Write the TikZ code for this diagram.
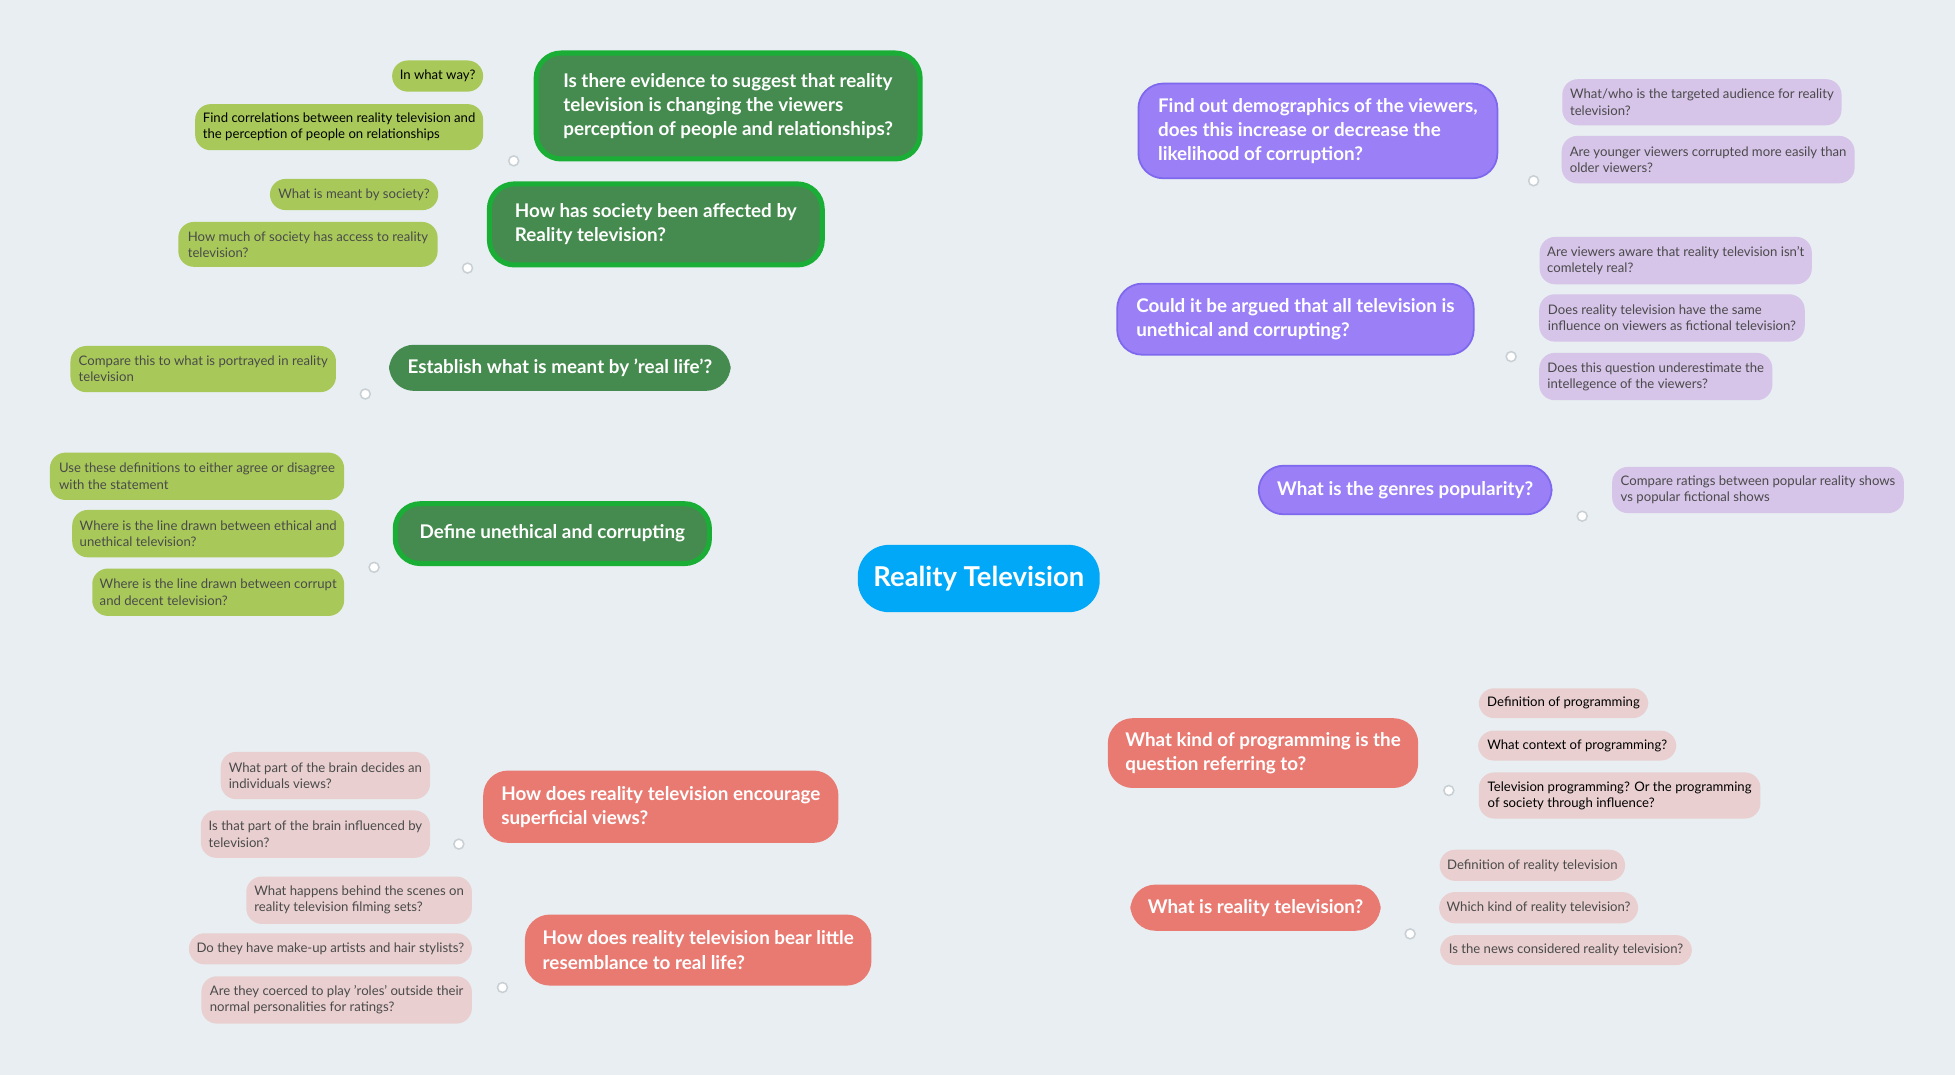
\documentclass[tikz,border=0pt]{standalone}
\usepackage{fontspec}
\setmainfont{Lato}
\usetikzlibrary{backgrounds}
\definecolor{bgcol}{HTML}{E8EEF1}
\definecolor{ctrcol}{HTML}{00A8F7}
\definecolor{gfill}{HTML}{458B4F}
\definecolor{gline}{HTML}{1AAE36}
\definecolor{gleaf}{HTML}{A8C95A}
\definecolor{pfill}{HTML}{9A7FF7}
\definecolor{pline}{HTML}{7E68EE}
\definecolor{pleaf}{HTML}{D6C4E9}
\definecolor{rfill}{HTML}{E97A72}
\definecolor{rleaf}{HTML}{E9CFCF}
\definecolor{linkcol}{HTML}{C9D0D4}
\definecolor{leaftext}{HTML}{4A4A4A}
\tikzset{
  branch/.style={rounded corners=0.4cm, align=left, text=white, inner xsep=0.28cm,
    font=\fontsize{8.6}{11}\selectfont\bfseries},
  gbranch/.style={branch, fill=gfill, draw=gline, line width=2.3pt},
  gplain/.style={branch, fill=gfill},
  pbranch/.style={branch, fill=pfill, draw=pline, line width=0.8pt},
  rbranch/.style={branch, fill=rfill},
  leaf/.style={rounded corners=0.25cm, align=left, text=leaftext, inner xsep=0.12cm,
    font=\fontsize{6}{7.4}\selectfont},
  gleafbox/.style={leaf, fill=gleaf},
  pleafbox/.style={leaf, fill=pleaf},
  rleafbox/.style={leaf, fill=rleaf},
  link/.style={draw=linkcol, line width=0.9pt},
  knot/.style={circle, draw=linkcol, fill=white, line width=0.7pt, inner sep=0pt, minimum size=0.16cm}
}
\begin{document}
\begin{tikzpicture}[x=0.02cm, y=0.02cm]
 \fill[bgcol] (0,0) rectangle (1568,-862);
 \useasboundingbox (0,0) rectangle (1568,-862);
 % centre
 \node[fill=ctrcol, text=white, rounded corners=0.5cm, minimum width=3.88cm, minimum height=1.08cm,
   font=\fontsize{12.5}{14}\selectfont\bfseries] (ctr) at (785,-464) {Reality Television};
 % green branches
 \node[gbranch, minimum width=6.16cm, minimum height=1.7cm] (g1) at (584,-85)
   {Is there evidence to suggest that reality\\television is changing the viewers\\perception of people and relationships?};
 \node[gbranch, minimum width=5.34cm, minimum height=1.3cm] (g2) at (526,-180)
   {How has society been affected by\\Reality television?};
 \node[gplain, minimum width=5.48cm, minimum height=0.74cm] (g3) at (449,-295)
   {Establish what is meant by 'real life'?};
 \node[gbranch, minimum width=5.04cm, minimum height=0.96cm] (g4) at (443,-428)
   {Define unethical and corrupting};
 % red branches
 \node[rbranch, minimum width=5.7cm, minimum height=1.16cm] (r1) at (530,-647)
   {How does reality television encourage\\superficial views?};
 \node[rbranch, minimum width=5.56cm, minimum height=1.14cm] (r2) at (560,-762)
   {How does reality television bear little\\resemblance to real life?};
 \node[rbranch, minimum width=4.96cm, minimum height=1.12cm] (r3) at (1013,-604)
   {What kind of programming is the\\question referring to?};
 \node[rbranch, minimum width=3.94cm, minimum height=0.74cm] (r4) at (1007,-728)
   {What is reality television?};
 % purple branches
 \node[pbranch, minimum width=5.76cm, minimum height=1.52cm] (p1) at (1057,-105)
   {Find out demographics of the viewers,\\does this increase or decrease the\\likelihood of corruption?};
 \node[pbranch, minimum width=5.72cm, minimum height=1.14cm] (p2) at (1039,-256)
   {Could it be argued that all television is\\unethical and corrupting?};
 \node[pbranch, minimum width=4.7cm, minimum height=0.78cm] (p3) at (1127,-393)
   {What is the genres popularity?};
 % knots
 \node[knot] (k1) at (412,-129) {};
 \node[knot] (k2) at (375,-215) {};
 \node[knot] (k3) at (293,-316) {};
 \node[knot] (k4) at (300,-455) {};
 \node[knot] (k5) at (368,-677) {};
 \node[knot] (k6) at (403,-792) {};
 \node[knot] (k7) at (1162,-634) {};
 \node[knot] (k8) at (1131,-749) {};
 \node[knot] (k9) at (1230,-145) {};
 \node[knot] (k10) at (1212,-286) {};
 \node[knot] (k11) at (1269,-414) {};
 % leaves
 \node[gleafbox, text=black, minimum width=1.46cm, minimum height=0.5cm] (l1a) at (351,-61) {In what way?};
 \node[gleafbox, text=black, minimum width=4.62cm, minimum height=0.74cm] (l1b) at (272,-102)
   {Find correlations between reality television and\\the perception of people on relationships};
 \node[gleafbox, minimum width=2.7cm, minimum height=0.5cm] (l2a) at (284,-156) {What is meant by society?};
 \node[gleafbox, minimum width=4.16cm, minimum height=0.72cm] (l2b) at (247,-196)
   {How much of society has access to reality\\television?};
 \node[gleafbox, minimum width=4.26cm, minimum height=0.74cm] (l3a) at (163,-296)
   {Compare this to what is portrayed in reality\\television};
 \node[gleafbox, minimum width=4.72cm, minimum height=0.76cm] (l4a) at (158,-382)
   {Use these definitions to either agree or disagree\\with the statement};
 \node[gleafbox, minimum width=4.34cm, minimum height=0.76cm] (l4b) at (167,-428)
   {Where is the line drawn between ethical and\\unethical television?};
 \node[gleafbox, minimum width=4.02cm, minimum height=0.76cm] (l4c) at (175,-475)
   {Where is the line drawn between corrupt\\and decent television?};
 \node[rleafbox, minimum width=3.36cm, minimum height=0.76cm] (l5a) at (261,-622)
   {What part of the brain decides an\\individuals views?};
 \node[rleafbox, minimum width=3.68cm, minimum height=0.76cm] (l5b) at (253,-669)
   {Is that part of the brain influenced by\\television?};
 \node[rleafbox, minimum width=3.62cm, minimum height=0.76cm] (l6a) at (288,-722)
   {What happens behind the scenes on\\reality television filming sets?};
 \node[rleafbox, minimum width=4.54cm, minimum height=0.5cm] (l6b) at (265,-761)
   {Do they have make-up artists and hair stylists?};
 \node[rleafbox, minimum width=4.34cm, minimum height=0.76cm] (l6c) at (270,-802)
   {Are they coerced to play 'roles' outside their\\normal personalities for ratings?};
 \node[rleafbox, text=black, minimum width=2.72cm, minimum height=0.48cm] (l7a) at (1254,-564) {Definition of programming};
 \node[rleafbox, text=black, minimum width=3.18cm, minimum height=0.48cm] (l7b) at (1265,-598) {What context of programming?};
 \node[rleafbox, text=black, minimum width=4.52cm, minimum height=0.74cm] (l7c) at (1299,-638)
   {Television programming? Or the programming\\of society through influence?};
 \node[rleafbox, minimum width=2.96cm, minimum height=0.5cm] (l8a) at (1229,-694) {Definition of reality television};
 \node[rleafbox, minimum width=3.18cm, minimum height=0.5cm] (l8b) at (1234,-728) {Which kind of reality television?};
 \node[rleafbox, minimum width=4.04cm, minimum height=0.48cm] (l8c) at (1256,-762) {Is the news considered reality television?};
 \node[pleafbox, minimum width=4.48cm, minimum height=0.74cm] (l9a) at (1365,-82)
   {What/who is the targeted audience for reality\\television?};
 \node[pleafbox, minimum width=4.7cm, minimum height=0.76cm] (l9b) at (1370,-128)
   {Are younger viewers corrupted more easily than\\older viewers?};
 \node[pleafbox, minimum width=4.36cm, minimum height=0.76cm] (l10a) at (1344,-209)
   {Are viewers aware that reality television isn't\\comletely real?};
 \node[pleafbox, minimum width=4.26cm, minimum height=0.76cm] (l10b) at (1341,-255)
   {Does reality television have the same\\influence on viewers as fictional television?};
 \node[pleafbox, minimum width=3.74cm, minimum height=0.76cm] (l10c) at (1328,-302)
   {Does this question underestimate the\\intellegence of the viewers?};
 \node[pleafbox, minimum width=4.68cm, minimum height=0.74cm] (l11a) at (1410,-393)
   {Compare ratings between popular reality shows\\vs popular fictional shows};
 \begin{scope}[on background layer]
  % centre to branches
  \draw[link] (ctr.center) to[out=92,in=0] (g1.south east) -- (k1);
  \draw[link] (ctr.center) to[out=100,in=0] (g2.south east) -- (k2);
  \draw[link] (ctr.center) to[out=115,in=0] (g3.south east) -- (k3);
  \draw[link] (ctr.center) to[out=180,in=0] (g4.south east) -- (k4);
  \draw[link] (ctr.center) to[out=262,in=0] (r1.south east) -- (k5);
  \draw[link] (ctr.center) to[out=268,in=0] (r2.south east) -- (k6);
  \draw[link] (ctr.center) to[out=285,in=180] (r3.south west) -- (k7);
  \draw[link] (ctr.center) to[out=280,in=180] (r4.south west) -- (k8);
  \draw[link] (ctr.center) to[out=85,in=180] (p1.south west) -- (k9);
  \draw[link] (ctr.center) to[out=80,in=180] (p2.south west) -- (k10);
  \draw[link] (ctr.center) to[out=60,in=180] (p3.south west) -- (k11);
  % knots to leaves, left side
  \foreach \K/\L in {k1/l1a,k1/l1b,k2/l2a,k2/l2b,k3/l3a,k4/l4a,k4/l4b,k4/l4c,k5/l5a,k5/l5b,k6/l6a,k6/l6b,k6/l6c}
   \draw[link] (\K) to[out=180,in=0] (\L.south east) -- (\L.south west);
  % knots to leaves, right side
  \foreach \K/\L in {k7/l7a,k7/l7b,k7/l7c,k8/l8a,k8/l8b,k8/l8c,k9/l9a,k9/l9b,k10/l10a,k10/l10b,k10/l10c,k11/l11a}
   \draw[link] (\K) to[out=0,in=180] (\L.south west) -- (\L.south east);
 \end{scope}
\end{tikzpicture}
\end{document}
